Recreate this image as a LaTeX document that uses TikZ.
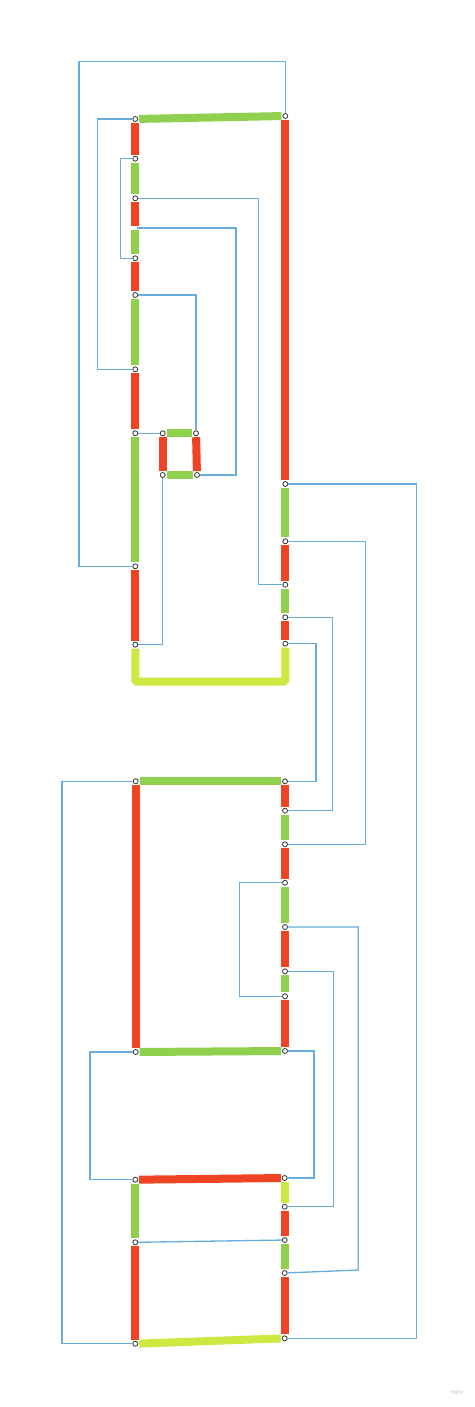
\documentclass[tikz,border=0pt]{standalone}
\usepackage{fontspec}
\setmainfont{Liberation Sans}
\definecolor{mred}{HTML}{EF4423}
\definecolor{mgreen}{HTML}{8FD14F}
\definecolor{mlime}{HTML}{CEE741}
\definecolor{mblue}{HTML}{68ADDD}
\tikzset{
  pin/.style={circle,draw=black!80,fill=white,line width=0.8pt,inner sep=0pt,minimum size=5pt},
  hid/.style={inner sep=0pt,minimum size=2pt},
  bar/.style={line width=8pt,shorten >=1pt,shorten <=1pt},
  rbar/.style={bar,mred},
  gbar/.style={bar,mgreen},
  lbar/.style={bar,mlime},
  wire/.style={mblue,line width=1.3pt}
}
\begin{document}
\begin{tikzpicture}[x=1pt,y=-1pt]
\useasboundingbox (0,0) rectangle (474,1407);
\fill[white] (0,0) rectangle (474,1407);
% top structure, left column
\node[pin] (A1) at (135.3,119) {};
\node[pin] (A2) at (135.3,158.7) {};
\node[pin] (A3) at (135.3,198.3) {};
\node[hid] (A4) at (135.3,228) {};
\node[pin] (A5) at (135.3,258.3) {};
\node[pin] (A6) at (135.3,295) {};
\node[pin] (A7) at (135.3,369.3) {};
\node[pin] (A8) at (135.3,433.3) {};
\node[pin] (A9) at (135.3,566.3) {};
\node[pin] (A10) at (135.3,644.7) {};
% top structure, right column
\node[pin] (B1) at (285.3,116) {};
\node[pin] (B2) at (285.3,484) {};
\node[pin] (B3) at (285.3,541.3) {};
\node[pin] (B4) at (285.3,584.7) {};
\node[pin] (B5) at (285.3,617.3) {};
\node[pin] (B6) at (285.3,643.7) {};
% small square
\node[pin] (S1) at (162.7,433.3) {};
\node[pin] (S2) at (196,433.3) {};
\node[pin] (S3) at (162.7,475) {};
\node[pin] (S4) at (197,475) {};
% middle structure
\node[pin] (C1) at (135.7,781.3) {};
\node[pin] (C2) at (135.7,1052) {};
\node[pin] (D1) at (285,781.3) {};
\node[pin] (D2) at (285,810.7) {};
\node[pin] (D3) at (285,844.3) {};
\node[pin] (D4) at (285,882.7) {};
\node[pin] (D5) at (285,927) {};
\node[pin] (D6) at (285,971.3) {};
\node[pin] (D7) at (285,996.3) {};
\node[pin] (D8) at (285,1051) {};
% bottom structure
\node[pin] (E1) at (135.3,1179.7) {};
\node[pin] (E2) at (135.3,1242.3) {};
\node[pin] (E3) at (135.3,1343.7) {};
\node[pin] (F1) at (284.7,1178) {};
\node[pin] (F2) at (284.7,1206.7) {};
\node[pin] (F3) at (284.7,1240) {};
\node[pin] (F4) at (284.7,1273) {};
\node[pin] (F5) at (284.7,1338.3) {};

% wires
\draw[wire] (A1) -- (97.3,119) -- (97.3,369.3) -- (A7);
\draw[wire] (A2) -- (120.7,158.7) -- (120.7,258.3) -- (A5);
\draw[wire] (A3) -- (258.3,198.3) -- (258.3,584.7) -- (B4);
\draw[wire] (A4) -- (236,228) -- (236,475) -- (S4);
\draw[wire] (A6) -- (196,295) -- (S2);
\draw[wire] (A8) -- (S1);
\draw[wire] (S3) -- (162.7,644.7) -- (A10);
\draw[wire] (A9) -- (79,566.3) -- (79,61.3) -- (285.3,61.3) -- (B1);
\draw[wire] (B2) -- (416.7,484) -- (416.7,1338.3) -- (F5);
\draw[wire] (B3) -- (365.3,541.3) -- (365.3,844.3) -- (D3);
\draw[wire] (B5) -- (332.3,617.3) -- (332.3,810.7) -- (D2);
\draw[wire] (B6) -- (316,643.7) -- (316,781.3) -- (D1);
\draw[wire] (D4) -- (239.3,882.7) -- (239.3,996.3) -- (D7);
\draw[wire] (D5) -- (358.3,927) -- (358.3,1270) -- (F4);
\draw[wire] (D6) -- (333.3,971.3) -- (333.3,1206.7) -- (F2);
\draw[wire] (D8) -- (314,1051) -- (314,1178) -- (F1);
\draw[wire] (C2) -- (90,1052) -- (90,1179.7) -- (E1);
\draw[wire] (C1) -- (62,781.3) -- (62,1343.7) -- (E3);
\draw[wire] (E2) -- (F3);

% bars: top structure
\draw[gbar] (A1) -- (B1);
\draw[rbar] (A1) -- (A2);
\draw[gbar] (A2) -- (A3);
\draw[rbar] (A3) -- (A4);
\draw[gbar] (A4) -- (A5);
\draw[rbar] (A5) -- (A6);
\draw[gbar] (A6) -- (A7);
\draw[rbar] (A7) -- (A8);
\draw[gbar] (A8) -- (A9);
\draw[rbar] (A9) -- (A10);
\draw[rbar] (B1) -- (B2);
\draw[gbar] (B2) -- (B3);
\draw[rbar] (B3) -- (B4);
\draw[gbar] (B4) -- (B5);
\draw[rbar] (B5) -- (B6);
\draw[lbar,rounded corners=1.5pt] (A10) -- (135.3,681.5) -- (285.3,681.5) -- (B6);
% small square
\draw[gbar] (S1) -- (S2);
\draw[rbar] (S1) -- (S3);
\draw[rbar] (S2) -- (S4);
\draw[gbar] (S3) -- (S4);
% middle structure
\draw[gbar] (C1) -- (D1);
\draw[rbar] (C1) -- (C2);
\draw[gbar] (C2) -- (D8);
\draw[rbar] (D1) -- (D2);
\draw[gbar] (D2) -- (D3);
\draw[rbar] (D3) -- (D4);
\draw[gbar] (D4) -- (D5);
\draw[rbar] (D5) -- (D6);
\draw[gbar] (D6) -- (D7);
\draw[rbar] (D7) -- (D8);
% bottom structure
\draw[rbar] (E1) -- (F1);
\draw[gbar] (E1) -- (E2);
\draw[rbar] (E2) -- (E3);
\draw[lbar] (E3) -- (F5);
\draw[lbar] (F1) -- (F2);
\draw[rbar] (F2) -- (F3);
\draw[gbar] (F3) -- (F4);
\draw[rbar] (F4) -- (F5);

\node[text=black!25,font=\fontsize{6}{7}\selectfont] (wm) at (457,1392) {miro};
\end{tikzpicture}
\end{document}
